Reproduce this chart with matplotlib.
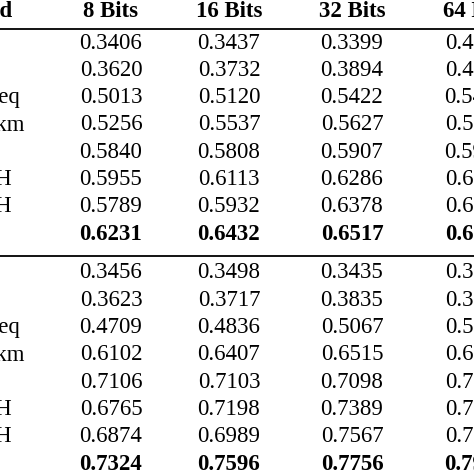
import matplotlib
matplotlib.use("Agg")
import matplotlib.pyplot as plt

# =============================================================================
# DATA
# =============================================================================
HEADERS = ["Method", "8 Bits", "16 Bits", "32 Bits", "64 Bits"]
METHODS = ["LSH", "SH", "PCA-ITQeq", "PCA-ITQkm", "SDH", "ADSH-DSH", "COSDISH", "Ours"]

GROUP_A = [
    [0.3406, 0.3437, 0.3399, 0.4021],
    [0.3620, 0.3732, 0.3894, 0.4012],
    [0.5013, 0.5120, 0.5422, 0.5488],
    [0.5256, 0.5537, 0.5627, 0.5671],
    [0.5840, 0.5808, 0.5907, 0.5955],
    [0.5955, 0.6113, 0.6286, 0.6321],
    [0.5789, 0.5932, 0.6378, 0.6356],
    [0.6231, 0.6432, 0.6517, 0.6611],
]
GROUP_B = [
    [0.3456, 0.3498, 0.3435, 0.3502],
    [0.3623, 0.3717, 0.3835, 0.3921],
    [0.4709, 0.4836, 0.5067, 0.5132],
    [0.6102, 0.6407, 0.6515, 0.6613],
    [0.7106, 0.7103, 0.7098, 0.7213],
    [0.6765, 0.7198, 0.7389, 0.7612],
    [0.6874, 0.6989, 0.7567, 0.7621],
    [0.7324, 0.7596, 0.7756, 0.7912],
]

# =============================================================================
# LAYOUT (pixel coordinates)
# =============================================================================
COL_X = [-60, 111, 229, 352, 476]
LABEL_RIGHT = [13, -20, -15, 20, 25, -15, 13, 12, -20]   # right end of first-column texts
HEADER_Y = 11
ROW_Y0 = 43
ROW_STEP = 27.3
GROUP_GAP = 230
FS = 16.5
FONT = "Liberation Serif"

fig = plt.figure(figsize=(4.74, 4.74), dpi=100)
ax = fig.add_axes([0, 0, 1, 1])
ax.set_xlim(0, 474)
ax.set_ylim(474, 0)
ax.axis("off")

for j, h in enumerate(HEADERS):
    if j == 0:
        ax.text(LABEL_RIGHT[0], HEADER_Y, h, ha="right", va="center",
                fontsize=FS, fontweight="bold", family=FONT)
    else:
        ax.text(COL_X[j], HEADER_Y, h, ha="center", va="center", fontsize=FS,
                fontweight="bold", family=FONT)

ax.axhline(29, color="black", lw=1.3)
ax.axhline(256, color="black", lw=1.3)

for g, group in enumerate([GROUP_A, GROUP_B]):
    for i, (name, vals) in enumerate(zip(METHODS, group)):
        y = ROW_Y0 + g * GROUP_GAP + i * ROW_STEP
        bold = i == len(METHODS) - 1
        ax.text(LABEL_RIGHT[i + 1], y, name, ha="right", va="center",
                fontsize=FS, family=FONT)
        for j, v in enumerate(vals):
            ax.text(COL_X[j + 1], y, f"{v:.4f}", ha="center", va="center",
                    fontsize=FS, family=FONT,
                    fontweight="bold" if bold else "normal")

fig.savefig("out.png", dpi=100)
